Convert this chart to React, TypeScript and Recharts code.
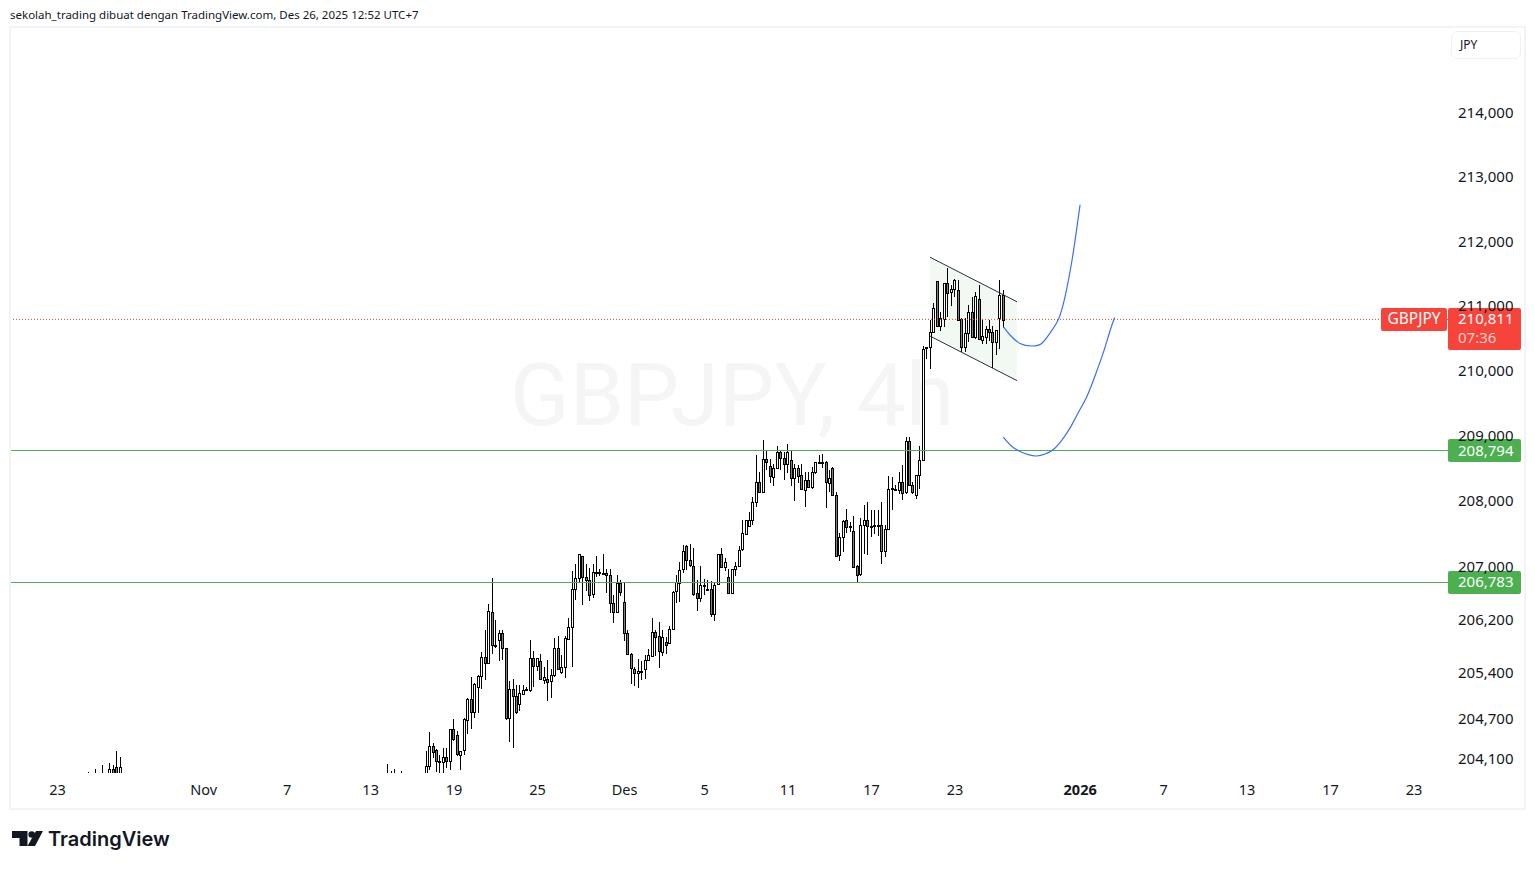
import { Area, Bar, ComposedChart, Line, ReferenceLine, XAxis, YAxis } from 'recharts';

const earlyBars = [-96, -94, -92, -91, -90, -89, -88, -87, -86, -10, -9, -8, -6];
const earlyOpen = [203.8, 203.82, 203.85, 203.84, 203.85, 203.97, 204.01, 203.88, 203.8, 203.84, 203.83, 203.82, 203.8];
const earlyHigh = [203.93, 203.97, 204.04, 203.92, 204.07, 204.04, 204.24, 204.16, 203.91, 204.05, 203.94, 203.98, 203.95];
const earlyLow = [203.75, 203.75, 203.75, 203.75, 203.75, 203.75, 203.75, 203.75, 203.75, 203.75, 203.75, 203.75, 203.75];
const earlyClose = [203.82, 203.84, 203.86, 203.85, 203.97, 203.87, 203.88, 204.01, 203.82, 203.86, 203.82, 203.84, 203.81];

const opens = [
  203.88, 204.02, 204.32, 204.26, 204.1, 204.08, 204.15, 204.1, 204.58, 204.48,
  204.19, 204.25, 204.72, 205.02, 204.83, 205.21, 205.37, 205.66, 205.57, 206.34,
  205.83, 205.92, 206.02, 205.79, 204.73, 205.17, 205.07, 204.95, 205.1, 205.15,
  205.16, 205.64, 205.52, 205.59, 205.32, 205.33, 205.29, 205.38, 205.79, 205.44,
  205.5, 205.93, 206.11, 206.69, 206.86, 207.18, 206.86, 206.82, 206.6, 206.93,
  206.94, 206.92, 206.93, 206.9, 206.47, 206.34, 206.78, 206.49, 206.02, 205.7,
  205.47, 205.41, 205.44, 205.48, 205.61, 205.68, 206.04, 205.97, 205.73, 205.89,
  205.87, 206.08, 206.65, 206.79, 206.98, 207.33, 207.12, 207.04, 206.62, 206.54,
  206.74, 206.69, 206.69, 206.31, 206.75, 207.21, 207.01, 206.86, 206.62, 206.99,
  207.04, 207.29, 207.52, 207.64, 207.73, 208.01, 208.32, 208.16, 208.67, 208.56,
  208.4, 208.53, 208.77, 208.68, 208.59, 208.65, 208.38, 208.53, 208.42, 208.2,
  208.35, 208.24, 208.47, 208.62, 208.61, 208.62, 208.31, 208.52, 208.12, 207.19,
  207.47, 207.73, 207.62, 207.56, 207.03, 206.9, 207.65, 207.73, 207.64, 207.66,
  207.65, 207.65, 207.26, 207.6, 208.21, 208.2, 208.19, 208.31, 208.16, 208.94,
  208.27, 208.11, 208.42, 208.65, 210.36, 210.38, 210.61, 211.4, 210.7, 210.83,
  211.38, 211.23, 211.28, 211.27, 210.82, 210.39, 210.6, 210.92, 210.53, 211.13,
  210.5, 210.54, 210.66, 210.62, 210.46, 210.84, 211.19,
];
const highs = [
  204.24, 204.53, 204.36, 204.28, 204.19, 204.29, 204.29, 204.58, 204.73, 204.54,
  204.25, 204.74, 205.04, 205.36, 205.27, 205.38, 205.73, 206.06, 206.46, 206.85,
  206.22, 206.06, 206.06, 205.79, 205.29, 205.32, 205.24, 205.24, 205.24, 205.2,
  205.92, 205.75, 205.64, 205.7, 205.5, 205.61, 205.47, 205.95, 205.98, 205.68,
  205.98, 206.25, 206.95, 207.07, 207.22, 207.19, 207.07, 207.0, 207.07, 207.19,
  206.99, 207.21, 206.99, 206.99, 206.59, 206.9, 206.82, 206.77, 206.06, 205.71,
  205.5, 205.63, 205.6, 205.69, 205.78, 206.25, 206.07, 206.19, 206.07, 205.96,
  206.12, 206.65, 206.89, 207.1, 207.35, 207.35, 207.37, 207.3, 206.82, 207.04,
  206.84, 206.82, 206.8, 206.79, 207.21, 207.31, 207.15, 206.99, 206.99, 207.1,
  207.33, 207.74, 207.73, 207.86, 208.08, 208.72, 208.46, 208.95, 208.78, 208.67,
  208.59, 208.87, 208.78, 208.77, 208.89, 208.79, 208.59, 208.57, 208.59, 208.46,
  208.46, 208.54, 208.62, 208.73, 208.74, 208.63, 208.5, 208.54, 208.16, 207.54,
  207.74, 207.9, 207.7, 207.79, 207.05, 207.76, 207.96, 208.01, 207.88, 207.89,
  207.88, 208.01, 207.65, 208.4, 208.39, 208.26, 208.47, 208.57, 209.0, 209.0,
  208.31, 208.42, 208.86, 210.4, 210.39, 210.8, 211.07, 211.4, 210.93, 211.38,
  211.6, 211.34, 211.44, 211.42, 210.83, 210.83, 211.03, 211.16, 211.24, 211.34,
  210.81, 210.71, 210.8, 210.71, 210.65, 211.42, 211.26,
];
const lows = [
  203.75, 203.96, 204.14, 203.93, 203.88, 203.86, 203.99, 203.96, 204.4, 204.17,
  203.97, 204.19, 204.5, 204.58, 204.74, 204.81, 205.18, 205.3, 205.57, 205.7,
  205.8, 205.59, 205.6, 204.71, 204.38, 204.29, 204.8, 204.85, 205.09, 205.14,
  205.14, 205.21, 205.44, 205.32, 205.24, 205.0, 205.03, 205.36, 205.46, 205.39,
  205.35, 205.92, 205.5, 206.52, 206.79, 206.44, 206.66, 206.5, 206.56, 206.87,
  206.88, 206.9, 206.62, 206.33, 206.17, 206.33, 206.57, 205.89, 205.7, 205.25,
  205.21, 205.2, 205.32, 205.33, 205.6, 205.68, 205.68, 205.49, 205.68, 205.71,
  205.87, 206.08, 206.46, 206.49, 206.92, 206.97, 207.02, 206.57, 206.35, 206.5,
  206.59, 206.67, 206.25, 206.2, 206.74, 207.0, 206.95, 206.62, 206.62, 206.88,
  207.03, 207.27, 207.5, 207.63, 207.65, 207.93, 208.14, 208.16, 208.49, 208.31,
  208.25, 208.52, 208.49, 208.34, 208.44, 208.26, 208.03, 208.29, 208.2, 207.92,
  208.23, 208.2, 208.44, 208.62, 208.52, 207.91, 208.16, 208.1, 207.18, 207.11,
  207.25, 207.53, 207.55, 207.01, 206.79, 206.88, 207.21, 207.2, 207.47, 207.53,
  207.48, 207.06, 207.16, 207.6, 207.89, 208.18, 208.13, 208.04, 208.13, 208.26,
  208.12, 208.06, 208.21, 208.64, 210.2, 210.05, 210.6, 210.7, 210.64, 210.7,
  210.84, 211.02, 211.16, 210.8, 210.3, 210.31, 210.46, 210.52, 210.52, 210.49,
  210.42, 210.43, 210.47, 210.06, 210.26, 210.36, 210.67,
];
const closes = [
  204.02, 204.32, 204.23, 204.1, 204.09, 204.15, 204.09, 204.58, 204.43, 204.19,
  204.25, 204.72, 205.03, 204.83, 205.25, 205.37, 205.66, 205.57, 206.35, 205.84,
  205.83, 206.02, 205.79, 204.74, 205.17, 205.07, 204.83, 205.12, 205.16, 205.17,
  205.64, 205.52, 205.64, 205.32, 205.36, 205.29, 205.38, 205.79, 205.47, 205.51,
  205.94, 206.11, 206.69, 206.85, 207.22, 206.86, 206.82, 206.6, 206.94, 206.94,
  206.93, 206.92, 206.9, 206.47, 206.34, 206.78, 206.64, 206.02, 205.71, 205.49,
  205.41, 205.44, 205.44, 205.61, 205.68, 206.04, 205.97, 205.75, 205.96, 205.85,
  206.08, 206.64, 206.79, 206.98, 207.26, 207.12, 207.04, 206.62, 206.54, 206.74,
  206.75, 206.69, 206.31, 206.75, 207.21, 207.01, 207.09, 206.62, 206.99, 207.04,
  207.28, 207.53, 207.73, 207.73, 208.01, 208.32, 208.16, 208.67, 208.63, 208.4,
  208.53, 208.77, 208.68, 208.59, 208.77, 208.37, 208.53, 208.41, 208.21, 208.35,
  208.24, 208.47, 208.62, 208.62, 208.62, 208.31, 208.38, 208.11, 207.19, 207.47,
  207.71, 207.62, 207.64, 207.02, 206.9, 207.65, 207.73, 207.64, 207.64, 207.65,
  207.65, 207.26, 207.6, 208.21, 208.22, 208.19, 208.31, 208.14, 208.94, 208.27,
  208.16, 208.42, 208.65, 210.36, 210.38, 210.61, 210.98, 210.71, 210.83, 211.38,
  211.23, 211.28, 211.42, 210.8, 210.39, 210.6, 210.92, 210.53, 211.17, 210.51,
  210.56, 210.66, 210.62, 210.46, 210.64, 211.19, 210.81,
];

const priceTicks = [214, 213, 212, 211, 210, 209, 208, 207, 206.2, 205.4, 204.7, 204.1];
const timeTickBars = [-105, -63, -39, -15, 9, 33, 58, 81, 105, 129, 153, 189, 213, 237, 261, 285];
const timeTickLabels = ['23', 'Nov', '7', '13', '19', '25', 'Des', '5', '11', '17', '23', '2026', '7', '13', '17', '23'];

const channelBars = [145.8, 170.86];
const channelUpper = [211.775, 211.083];
const channelLower = [210.554, 209.866];

const curveOneBars = [166.9, 168.83, 171.7, 175.07, 177.94, 180.33, 182.72, 184.64, 186.57, 188.0, 188.97];
const curveOneValues = [210.7, 210.57, 210.44, 210.4, 210.44, 210.6, 210.81, 211.16, 211.7, 212.21, 212.59];
const curveTwoBars = [166.9, 169.3, 171.7, 174.1, 176.5, 178.9, 181.3, 183.7, 186.1, 188.4, 190.9, 193.2, 195.6, 197.5, 198.9];
const curveTwoValues = [209.0, 208.86, 208.78, 208.73, 208.71, 208.74, 208.81, 208.95, 209.14, 209.37, 209.62, 209.93, 210.29, 210.62, 210.84];

const lastPrice = 210.811;
const supportUpper = 208.794;
const supportLower = 206.783;

const font = '"Noto Sans", sans-serif';
const red = '#f7443a';
const green = '#4caf50';
const textColor = '#131722';

const toRow = (bar: number, open: number, high: number, low: number, close: number) => ({
  bar,
  open,
  close,
  wick: [low, high],
  body: [Math.min(open, close), Math.max(open, close)],
});

const candles = [
  ...earlyBars.map((bar, i) => toRow(bar, earlyOpen[i], earlyHigh[i], earlyLow[i], earlyClose[i])),
  ...opens.map((open, i) => toRow(i + 1, open, highs[i], lows[i], closes[i])),
];
const channelRows = channelBars.map((bar, i) => ({
  bar,
  upper: channelUpper[i],
  lower: channelLower[i],
  band: [channelLower[i], channelUpper[i]],
}));
const curveOne = curveOneBars.map((bar, i) => ({ bar, value: curveOneValues[i] }));
const curveTwo = curveTwoBars.map((bar, i) => ({ bar, value: curveTwoValues[i] }));

const barDomain: [number, number] = [-118.41, 294.76];
const priceDomain: [number, number] = [203.9146, 215.3637];
const fmtPrice = (v: number) => v.toFixed(3).replace('.', ',');

function WickShape(props: any) {
  const { x, y, height } = props;
  if (!Number.isFinite(y) || !Number.isFinite(height)) return null;
  return <rect x={Math.round(x)} y={Math.round(y)} width={1} height={Math.max(1, Math.round(height))} fill="#000" />;
}

function BodyShape(props: any) {
  const { x, y, height, payload } = props;
  if (!Number.isFinite(y) || !Number.isFinite(height)) return null;
  const left = Math.round(x + 1) - 1;
  const up = payload.close >= payload.open;
  return (
    <rect
      x={left + 0.5}
      y={Math.round(y) + 0.5}
      width={2}
      height={Math.max(1, Math.round(height))}
      fill={up ? '#fff' : '#808080'}
      stroke="#000"
      strokeWidth={1}
    />
  );
}

function TimeTick(props: any) {
  const { x, y, payload } = props;
  const label = timeTickLabels[timeTickBars.indexOf(payload.value)];
  return (
    <text x={x} y={y} dy={-20} textAnchor="middle" fontFamily={font} fontSize={14.5} fontWeight={label === '2026' ? 700 : 400} fill={textColor}>
      {label}
    </text>
  );
}

function PriceBadge({ viewBox, text, color }: any) {
  const left = viewBox.x + viewBox.width;
  const mid = viewBox.y;
  return (
    <g>
      <rect x={left} y={mid - 11.5} width={73} height={23} rx={2} fill={color} />
      <text x={left + 10} y={mid + 5} fontFamily={font} fontSize={15} fill="#fff">
        {text}
      </text>
    </g>
  );
}

function LastPriceBadge({ viewBox }: any) {
  const left = viewBox.x + viewBox.width;
  const mid = viewBox.y;
  return (
    <g>
      <rect x={left - 67} y={mid - 11.5} width={66} height={23} rx={2} fill={red} />
      <text x={left - 34} y={mid + 5} textAnchor="middle" fontFamily={font} fontSize={15.5} fill="#fff">
        GBPJPY
      </text>
      <rect x={left} y={mid - 11.5} width={73} height={42} rx={2} fill={red} />
      <text x={left + 10} y={mid + 5} fontFamily={font} fontSize={15} fill="#fff">
        {fmtPrice(lastPrice)}
      </text>
      <text x={left + 10} y={mid + 24} fontFamily={font} fontSize={15} fill="#ffd0cc">
        07:36
      </text>
    </g>
  );
}

function Logo() {
  return (
    <svg width={175} height={24} style={{ position: 'absolute', left: 0, top: 827 }}>
      <polygon points="12,4 27.5,4 27.5,19 19.5,19 19.5,11 12,11" fill="#131722" />
      <circle cx={31.7} cy={7.5} r={3.3} fill="#131722" />
      <polygon points="36,4 43,4 35,19 27.5,19" fill="#131722" />
      <text x={48} y={19} fontFamily="Inter, sans-serif" fontSize={20} fontWeight={600} fill="#131722">
        TradingView
      </text>
    </svg>
  );
}

export default function App() {
  return (
    <div style={{ position: 'absolute', left: 0, top: 0, width: 1535, height: 869, background: '#fff', overflow: 'hidden' }}>
      <div style={{ position: 'absolute', left: 10, top: 7, fontFamily: font, fontSize: 11.5, color: textColor, whiteSpace: 'nowrap' }}>
        sekolah_trading dibuat dengan TradingView.com, Des 26, 2025 12:52 UTC+7
      </div>
      <div style={{ position: 'absolute', left: 9, top: 26, width: 1513, height: 780, border: '2px solid #f1f3f6' }} />
      <div
        style={{
          position: 'absolute',
          left: 510,
          top: 344,
          fontFamily: 'Roboto, sans-serif',
          fontSize: 87.5,
          color: '#f5f5f5',
          whiteSpace: 'nowrap',
        }}
      >
        GBPJPY, 4h
      </div>
      <div
        style={{
          position: 'absolute',
          left: 1451,
          top: 31,
          width: 60,
          height: 26,
          paddingLeft: 8,
          border: '1px solid #f0f0f0',
          borderRadius: 6,
          fontFamily: font,
          fontSize: 12,
          lineHeight: '26px',
          color: textColor,
        }}
      >
        JPY
      </div>
      <div style={{ position: 'absolute', left: 0, top: 0 }}>
        <ComposedChart width={1535} height={869} data={candles} margin={{ top: 28, right: 10, bottom: 60, left: 11 }}>
          <XAxis
            xAxisId="time"
            dataKey="bar"
            type="number"
            domain={barDomain}
            allowDataOverflow
            ticks={timeTickBars}
            interval={0}
            height={36}
            axisLine={false}
            tickLine={false}
            tickSize={0}
            tickMargin={12}
            tick={<TimeTick />}
          />
          <XAxis xAxisId="wick" dataKey="bar" type="number" domain={barDomain} allowDataOverflow hide />
          <XAxis xAxisId="body" dataKey="bar" type="number" domain={barDomain} allowDataOverflow hide />
          <YAxis
            orientation="right"
            scale="log"
            type="number"
            domain={priceDomain}
            allowDataOverflow
            ticks={priceTicks}
            interval={0}
            width={77}
            axisLine={false}
            tickLine={false}
            tickSize={0}
            tickMargin={10}
            tick={{ fill: textColor, fontSize: 15, fontFamily: font, dy: -1.5 }}
            tickFormatter={fmtPrice}
          />
          <Area
            xAxisId="time"
            data={channelRows}
            dataKey="band"
            type="linear"
            stroke="none"
            fill="#4caf50"
            fillOpacity={0.07}
            isAnimationActive={false}
            dot={false}
          />
          <ReferenceLine
            xAxisId="time"
            y={lastPrice}
            stroke="#e8423a"
            strokeWidth={1}
            strokeDasharray="1 2"
            label={(p: any) => <LastPriceBadge viewBox={p.viewBox} />}
          />
          <ReferenceLine
            xAxisId="time"
            y={supportUpper}
            stroke={green}
            strokeWidth={1}
            label={(p: any) => <PriceBadge viewBox={p.viewBox} text={fmtPrice(supportUpper)} color={green} />}
          />
          <ReferenceLine
            xAxisId="time"
            y={supportLower}
            stroke={green}
            strokeWidth={1}
            label={(p: any) => <PriceBadge viewBox={p.viewBox} text={fmtPrice(supportLower)} color={green} />}
          />
          <Bar xAxisId="wick" dataKey="wick" barSize={1} shape={<WickShape />} isAnimationActive={false} />
          <Bar xAxisId="body" dataKey="body" barSize={3} shape={<BodyShape />} isAnimationActive={false} />
          <Line xAxisId="time" data={channelRows} dataKey="upper" type="linear" stroke="#2a2e39" strokeWidth={1} dot={false} isAnimationActive={false} />
          <Line xAxisId="time" data={channelRows} dataKey="lower" type="linear" stroke="#2a2e39" strokeWidth={1} dot={false} isAnimationActive={false} />
          <Line xAxisId="time" data={curveOne} dataKey="value" type="natural" stroke="#3b6ff5" strokeWidth={1.2} dot={false} isAnimationActive={false} />
          <Line xAxisId="time" data={curveTwo} dataKey="value" type="natural" stroke="#3b6ff5" strokeWidth={1.2} dot={false} isAnimationActive={false} />
        </ComposedChart>
      </div>
      <Logo />
    </div>
  );
}
